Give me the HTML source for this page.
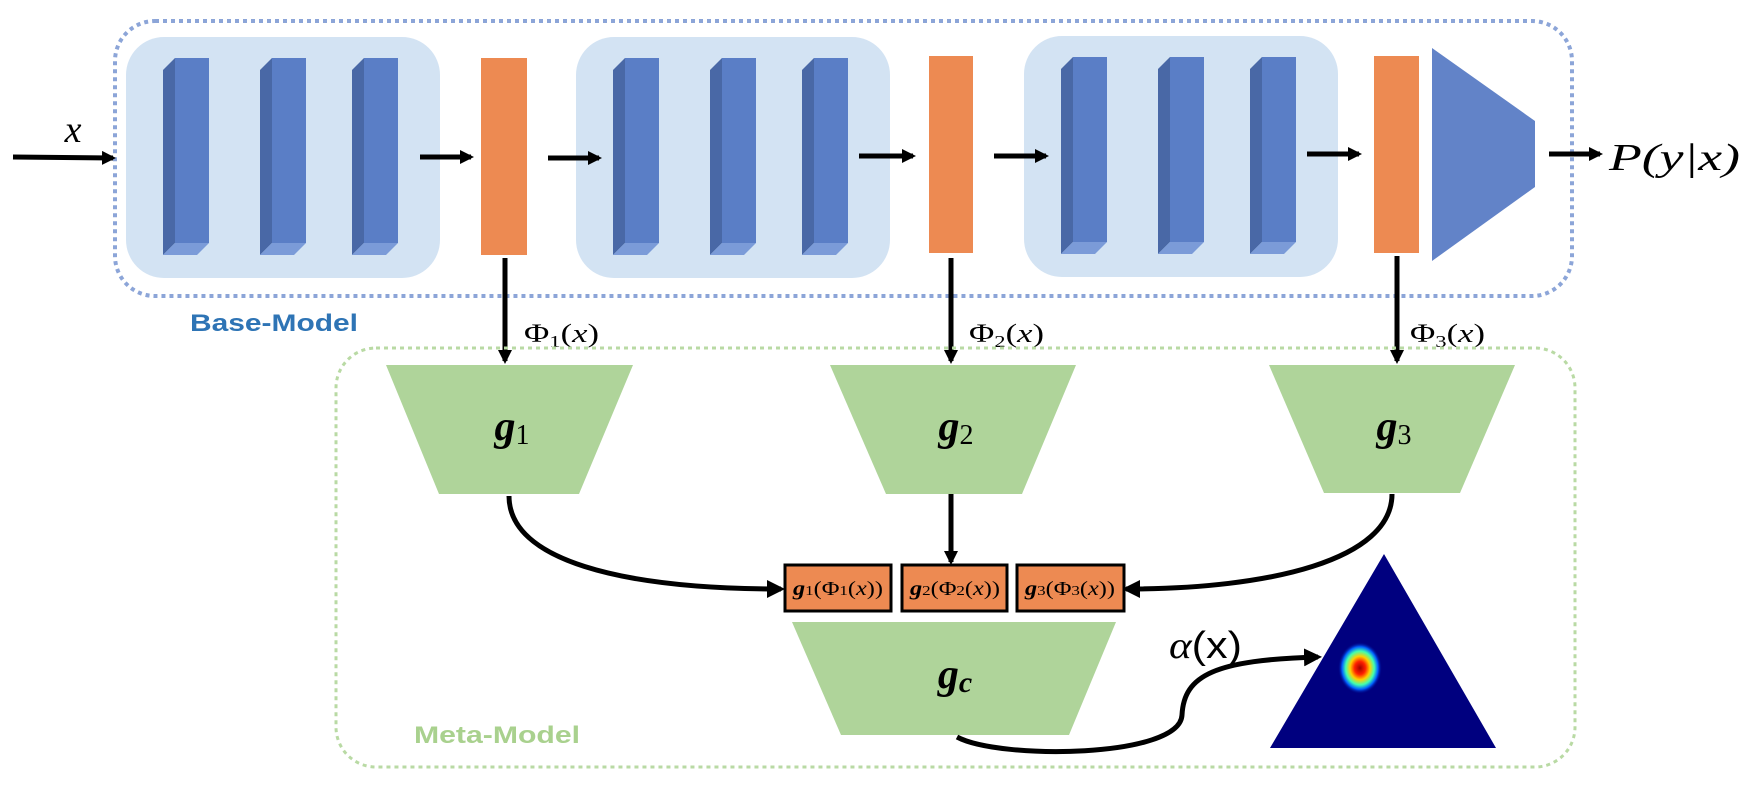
<!DOCTYPE html>
<html><head><meta charset="utf-8"><style>
html,body{margin:0;padding:0;background:#fff;}
svg{display:block;}
.m{font-family:"Liberation Serif",serif;font-style:italic;}
.s{font-family:"Liberation Sans",sans-serif;}
</style></head><body>
<svg width="1755" height="794" viewBox="0 0 1755 794" xmlns="http://www.w3.org/2000/svg">
<defs>
<marker id="ah" markerWidth="14" markerHeight="14" refX="11" refY="7" orient="auto" markerUnits="userSpaceOnUse" viewBox="0 0 14 14">
<path d="M0,0 L14,7 L0,14 z" fill="#000"/></marker>
<marker id="ah2" markerWidth="18" markerHeight="18" refX="14" refY="9" orient="auto" markerUnits="userSpaceOnUse" viewBox="0 0 18 18">
<path d="M0,0 L18,9 L0,18 z" fill="#000"/></marker>
<radialGradient id="hot" cx="0.5" cy="0.5" r="0.5">
<stop offset="0" stop-color="#a00000"/>
<stop offset="0.25" stop-color="#ff2000"/>
<stop offset="0.45" stop-color="#ffd000"/>
<stop offset="0.65" stop-color="#40ffb0"/>
<stop offset="0.82" stop-color="#0060ff"/>
<stop offset="1" stop-color="#000080" stop-opacity="0"/>
</radialGradient>
<g id="bar">
<polygon points="-12,70 0,58 0,243 -12,255" fill="#4968a6"/>
<polygon points="-12,255 0,243 34,243 22,255" fill="#7b9bd8"/>
<rect x="0" y="58" width="34" height="185" fill="#5a7ec6"/>
</g>
<g id="blk">
<rect x="126" y="37" width="314" height="241" rx="38" fill="#d3e3f3"/>
<use href="#bar" x="175"/><use href="#bar" x="272"/><use href="#bar" x="364"/>
</g>
</defs>

<rect x="115" y="21" width="1457" height="275" rx="40" fill="none" stroke="#8ca5d8" stroke-width="4" stroke-dasharray="4 4"/>
<use href="#blk"/>
<use href="#blk" x="450"/>
<use href="#blk" x="898" y="-1"/>
<rect x="481" y="58" width="46" height="197" fill="#ed8a52"/>
<rect x="929" y="56" width="44" height="197" fill="#ed8a52"/>
<rect x="1374" y="56" width="45" height="197" fill="#ed8a52"/>
<polygon points="1432,48 1535,121 1535,187 1432,261" fill="#6283c8"/>

<g stroke="#000" stroke-width="5" fill="none" marker-end="url(#ah)">
<line x1="13" y1="157" x2="113" y2="158"/>
<line x1="420" y1="157" x2="471" y2="157"/>
<line x1="548" y1="158" x2="599" y2="158"/>
<line x1="859" y1="156" x2="913" y2="156"/>
<line x1="994" y1="156" x2="1046" y2="156"/>
<line x1="1307" y1="154" x2="1359" y2="154"/>
<line x1="1549" y1="154" x2="1600" y2="154"/>
<line x1="505" y1="258" x2="505" y2="361"/>
<line x1="951" y1="258" x2="951" y2="361"/>
<line x1="1397" y1="256" x2="1397" y2="361"/>
</g>
<text x="73" y="142" class="m" font-size="38" text-anchor="middle">x</text>
<text x="1609" y="170" class="m" font-size="38" textLength="131" lengthAdjust="spacingAndGlyphs">P(y|x)</text>

<text x="190" y="331" class="s" font-size="24" font-weight="bold" fill="#2e74b5" textLength="168" lengthAdjust="spacingAndGlyphs">Base-Model</text>

<g class="m" font-size="26">
<text x="524" y="342" textLength="75" lengthAdjust="spacingAndGlyphs"><tspan font-style="normal">Φ</tspan><tspan font-size="17" font-style="normal" dy="5">1</tspan><tspan dy="-5" font-style="normal">(</tspan>x<tspan font-style="normal">)</tspan></text>
<text x="969" y="342" textLength="75" lengthAdjust="spacingAndGlyphs"><tspan font-style="normal">Φ</tspan><tspan font-size="17" font-style="normal" dy="5">2</tspan><tspan dy="-5" font-style="normal">(</tspan>x<tspan font-style="normal">)</tspan></text>
<text x="1410" y="342" textLength="75" lengthAdjust="spacingAndGlyphs"><tspan font-style="normal">Φ</tspan><tspan font-size="17" font-style="normal" dy="5">3</tspan><tspan dy="-5" font-style="normal">(</tspan>x<tspan font-style="normal">)</tspan></text>
</g>

<rect x="336" y="348" width="1239" height="419" rx="40" fill="none" stroke="#b9daa4" stroke-width="3" stroke-dasharray="4 4"/>
<text x="414" y="743" class="s" font-size="24" font-weight="bold" fill="#a9d18e" textLength="166" lengthAdjust="spacingAndGlyphs">Meta-Model</text>

<polygon points="386,365 633,365 579,494 439,494" fill="#afd49a"/>
<polygon points="830,365 1076,365 1022,494 886,494" fill="#afd49a"/>
<polygon points="1269,365 1515,365 1460,493 1324,493" fill="#afd49a"/>
<polygon points="792,622 1116,622 1069,735 841,735" fill="#afd49a"/>

<text x="512" y="440" class="m" font-size="42" font-weight="bold" text-anchor="middle">g<tspan font-size="28" font-weight="normal" font-style="normal" dy="4">1</tspan></text>
<text x="956" y="440" class="m" font-size="42" font-weight="bold" text-anchor="middle">g<tspan font-size="28" font-weight="normal" font-style="normal" dy="4">2</tspan></text>
<text x="1394" y="440" class="m" font-size="42" font-weight="bold" text-anchor="middle">g<tspan font-size="28" font-weight="normal" font-style="normal" dy="4">3</tspan></text>
<text x="955" y="688" class="m" font-size="42" font-weight="bold" text-anchor="middle">g<tspan font-size="30" dy="4">c</tspan></text>

<g stroke="#000" stroke-width="5" fill="none" marker-end="url(#ah2)">
<path d="M509,496 C509,560 620,589 781,589"/>
<path d="M1392,494 C1392,560 1270,589 1126,589"/>
<path d="M957,737 C1000,760 1180,758 1182,715 C1184,675 1215,660 1318,657"/>
</g>
<line x1="951" y1="494" x2="951" y2="562" stroke="#000" stroke-width="5" marker-end="url(#ah)"/>

<g font-family="Liberation Serif,serif" font-size="20">
<rect x="785" y="565" width="106" height="46" fill="#ed8a52" stroke="#000" stroke-width="3"/>
<text x="793" y="595" textLength="90" lengthAdjust="spacingAndGlyphs"><tspan font-weight="bold" font-style="italic">g</tspan><tspan font-size="14">1</tspan>(Φ<tspan font-size="14">1</tspan>(<tspan font-style="italic">x</tspan>))</text>
<rect x="902" y="565" width="105" height="46" fill="#ed8a52" stroke="#000" stroke-width="3"/>
<text x="910" y="595" textLength="90" lengthAdjust="spacingAndGlyphs"><tspan font-weight="bold" font-style="italic">g</tspan><tspan font-size="14">2</tspan>(Φ<tspan font-size="14">2</tspan>(<tspan font-style="italic">x</tspan>))</text>
<rect x="1017" y="565" width="107" height="46" fill="#ed8a52" stroke="#000" stroke-width="3"/>
<text x="1025" y="595" textLength="90" lengthAdjust="spacingAndGlyphs"><tspan font-weight="bold" font-style="italic">g</tspan><tspan font-size="14">3</tspan>(Φ<tspan font-size="14">3</tspan>(<tspan font-style="italic">x</tspan>))</text>
</g>

<polygon points="1384,554 1496,748 1270,748" fill="#00007f"/>
<ellipse cx="1360" cy="668" rx="22" ry="26" fill="url(#hot)"/>

<text x="1169" y="658" font-family="Liberation Serif,serif" font-size="38" textLength="73" lengthAdjust="spacingAndGlyphs"><tspan font-style="italic">α</tspan><tspan font-family="Liberation Sans,sans-serif">(x)</tspan></text>
</svg>
</body></html>
